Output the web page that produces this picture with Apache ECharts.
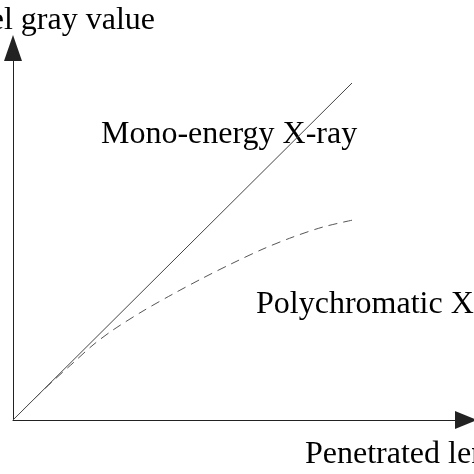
<!DOCTYPE html>
<html>
<head>
<meta charset="utf-8">
<script src="https://cdn.jsdelivr.net/npm/echarts@6/dist/echarts.min.js"></script>
<style>html,body{margin:0;padding:0;background:#fff}#c{width:474px;height:474px}</style>
</head>
<body>
<div id="c"></div>
<script>
// Schematic: gray value vs penetrated length (arbitrary units)
const monoX = [0, 339];
const monoY = [0, 337];
const polyX = [0, 20, 40, 60, 80, 100, 130, 160, 190, 220, 250, 280, 310, 340];
const polyY = [0, 20, 39, 57, 75, 90, 109, 126, 142, 157, 171, 183, 193, 200];
const xMax = 453;
const yMax = 372;

const chart = echarts.init(document.getElementById('c'));
const font = '"Liberation Serif", "Times New Roman", serif';
chart.setOption({
  backgroundColor: '#fff',
  animation: false,
  grid: {left: 13, right: 8, top: 48, bottom: 54},
  xAxis: {
    type: 'value', min: 0, max: xMax,
    axisLine: {show: true, symbol: ['none', 'triangle'], symbolSize: [18, 22],
      lineStyle: {color: '#222', width: 1}},
    axisTick: {show: false}, axisLabel: {show: false}, splitLine: {show: false}
  },
  yAxis: {
    type: 'value', min: 0, max: yMax,
    axisLine: {show: true, symbol: ['none', 'triangle'], symbolSize: [18, 26],
      lineStyle: {color: '#222', width: 1}},
    axisTick: {show: false}, axisLabel: {show: false}, splitLine: {show: false}
  },
  series: [
    {type: 'line', data: monoX.map((x, i) => [x, monoY[i]]), showSymbol: false,
      lineStyle: {color: '#444', width: 1}},
    {type: 'line', data: polyX.map((x, i) => [x, polyY[i]]), showSymbol: false, smooth: 0.3,
      lineStyle: {color: '#555', width: 1, type: [9, 6]}}
  ],
  graphic: [
    {type: 'text', x: 101, y: 134.5, style: {text: 'Mono-energy X-ray', font: '32px ' + font, fill: '#000', textVerticalAlign: 'middle'}},
    {type: 'text', x: 256, y: 304.5, style: {text: 'Polychromatic X-ray', font: '32px ' + font, fill: '#000', textVerticalAlign: 'middle'}},
    {type: 'text', x: 305, y: 454.5, style: {text: 'Penetrated length', font: '32px ' + font, fill: '#000', textVerticalAlign: 'middle'}},
    {type: 'text', x: 155, y: 20.5, style: {text: 'Pixel gray value', font: '32px ' + font, fill: '#000', textAlign: 'right', textVerticalAlign: 'middle'}}
  ]
});
</script>
</body>
</html>
